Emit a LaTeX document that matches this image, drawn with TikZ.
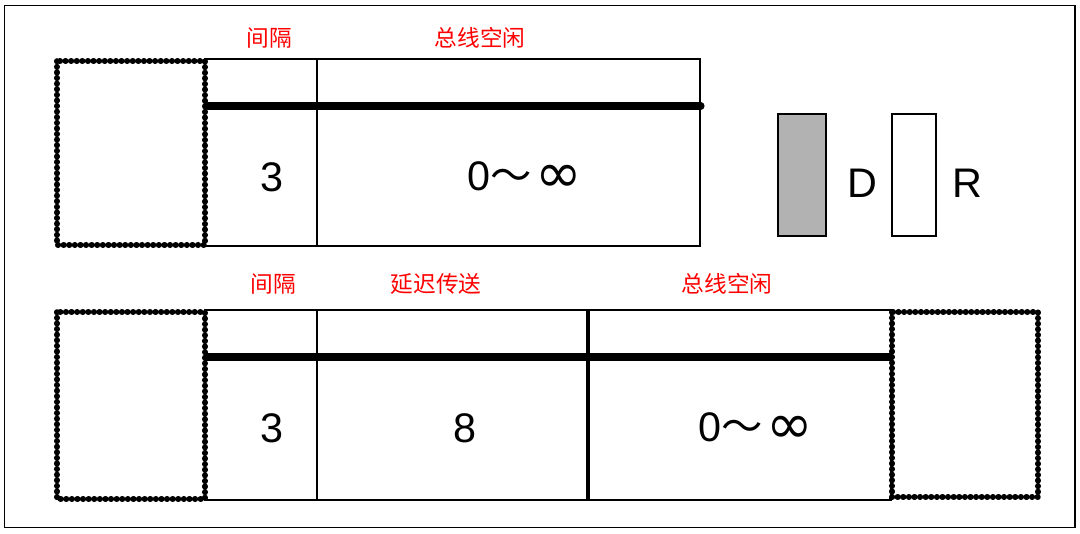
\documentclass[tikz,border=0pt]{standalone}
\usepackage{fontspec}
\setmainfont{Liberation Sans}
\newfontfamily\cjk{Noto Sans CJK SC}
\newfontfamily\djv{DejaVu Sans}
\newcommand{\zeroinf}{0{\cjk ～}\hspace{3pt}\raisebox{-2pt}{\djv\fontsize{42}{42}\selectfont ∞}}
\begin{document}
\begin{tikzpicture}[x=0.75pt,y=-0.75pt,
  cell/.style={draw,line width=1.5pt},
  dotbox/.style={draw,line width=4.2pt,dash pattern=on 0.4pt off 3.8pt,line cap=round},
  busline/.style={line width=5.3pt},
  num/.style={inner sep=0,font=\fontsize{31}{31}\selectfont},
  lab/.style={inner sep=0,text=red,font=\cjk\fontsize{17}{17}\selectfont}]
\useasboundingbox (0,0) rectangle (1080,533);
\draw[line width=1.2pt] (4.5,5.5) rectangle (1075,527.5);
% top row
\draw[cell] (205,59) rectangle (317,246);
\draw[cell] (317,59) rectangle (700,246);
\draw[dotbox] (57,61) rectangle (205,245);
\coordinate (t1) at (207,106);
\coordinate (t2) at (701,106);
\draw[busline,line cap=round] (t1) -- (t2);
\node[lab] (lt1) at (269,38) {间隔};
\node[lab] (lt2) at (480,38) {总线空闲};
\node[num] (nt1) at (272,177) {3};
\node[num,anchor=base] (nt2) at (525,190) {\zeroinf};
% legend
\draw[line width=1.5pt,fill=black!30] (778,114) rectangle (826,236);
\node[num] (d) at (862,183) {D};
\draw[line width=1.5pt] (892,114) rectangle (936,236);
\node[num] (r) at (967,183) {R};
% bottom row
\draw[cell] (205,310) rectangle (317,500);
\draw[cell] (317,310) rectangle (588,500);
\draw[cell] (588,310) rectangle (891,500);
\draw[line width=3.5pt] (588,310) -- (588,500);
\coordinate (b1) at (205,357);
\coordinate (b2) at (892,357);
\draw[busline] (b1) -- (b2);
\draw[dotbox] (57,312) rectangle (205,499);
\draw[dotbox] (892,312) rectangle (1038,497);
\node[lab] (lb1) at (273,284) {间隔};
\node[lab] (lb2) at (436,284) {延迟传送};
\node[lab] (lb3) at (727,284) {总线空闲};
\node[num] (nb1) at (272,428) {3};
\node[num] (nb2) at (465,428) {8};
\node[num,anchor=base] (nb3) at (756,441) {\zeroinf};
\end{tikzpicture}
\end{document}
